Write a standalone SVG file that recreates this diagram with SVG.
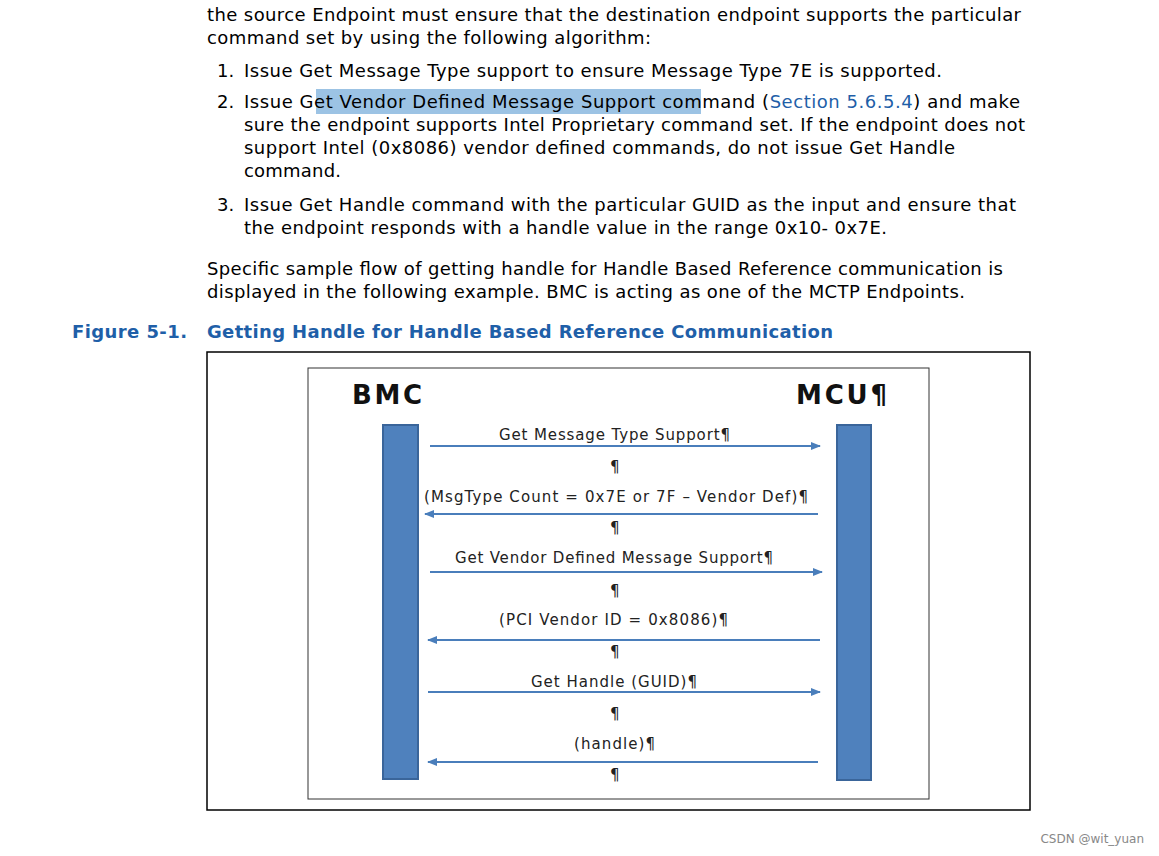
<svg xmlns="http://www.w3.org/2000/svg" width="1159" height="856" viewBox="0 0 1159 856">
<defs>
<marker id="ah" markerWidth="10" markerHeight="8" refX="9" refY="4" orient="auto" markerUnits="userSpaceOnUse"><path d="M0,0 L10,4 L0,8 z" fill="#4a7ebb"/></marker>
<style>
.b{font-family:"DejaVu Sans",Verdana,sans-serif;font-size:18px;fill:#000}
.d{font-family:"DejaVu Sans",Verdana,sans-serif;font-size:15px;fill:#222}
.h{font-family:"DejaVu Sans",Verdana,sans-serif;font-size:26px;font-weight:bold;fill:#111}
.lk{fill:#1f5fa8}
.bar{fill:#4f81bd;stroke:#3a659a;stroke-width:2}
.ar{stroke:#4a7ebb;stroke-width:2;fill:none;marker-end:url(#ah)}
</style>
</defs>
<rect width="1159" height="856" fill="#fff"/>
<rect x="316" y="89" width="385" height="25" fill="#9cc3e4"/>
<g id="text">
<text class="b" x="207" y="21" textLength="814">the source Endpoint must ensure that the destination endpoint supports the particular</text>
<text class="b" x="207" y="44" textLength="444">command set by using the following algorithm:</text>
<text class="b" x="217" y="77">1.</text>
<text class="b" x="244" y="77" textLength="698">Issue Get Message Type support to ensure Message Type 7E is supported.</text>
<text class="b" x="217" y="108">2.</text>
<text class="b" x="244" y="108" textLength="776">Issue Get Vendor Defined Message Support command (<tspan class="lk">Section 5.6.5.4</tspan>) and make</text>
<text class="b" x="244" y="131" textLength="781">sure the endpoint supports Intel Proprietary command set. If the endpoint does not</text>
<text class="b" x="244" y="154" textLength="711">support Intel (0x8086) vendor defined commands, do not issue Get Handle</text>
<text class="b" x="244" y="177" textLength="97">command.</text>
<text class="b" x="217" y="211">3.</text>
<text class="b" x="244" y="211" textLength="772">Issue Get Handle command with the particular GUID as the input and ensure that</text>
<text class="b" x="244" y="234" textLength="643">the endpoint responds with a handle value in the range 0x10- 0x7E.</text>
<text class="b" x="207" y="275" textLength="796">Specific sample flow of getting handle for Handle Based Reference communication is</text>
<text class="b" x="207" y="298" textLength="758">displayed in the following example. BMC is acting as one of the MCTP Endpoints.</text>
<text class="b lk" x="72" y="338" font-weight="bold" textLength="115">Figure 5-1.</text>
<text class="b lk" x="207" y="338" font-weight="bold" textLength="626">Getting Handle for Handle Based Reference Communication</text>
</g>
<rect x="207" y="352" width="823" height="458" fill="none" stroke="#000" stroke-width="1.5"/>
<rect x="308" y="368" width="621" height="431" fill="none" stroke="#333" stroke-width="1"/>
<g id="bmc"><text class="h" x="352" y="404" textLength="70">BMC</text><rect class="bar" x="383" y="425" width="35" height="354"/></g>
<g id="mcu"><text class="h" x="796" y="404" textLength="91">MCU¶</text><rect class="bar" x="837" y="425" width="34" height="355"/></g>
<g id="connectors">
<line class="ar" x1="430" y1="446" x2="820" y2="446"/>
<line class="ar" x1="818" y1="514" x2="425" y2="514"/>
<line class="ar" x1="430" y1="572" x2="822" y2="572"/>
<line class="ar" x1="820" y1="640" x2="428" y2="640"/>
<line class="ar" x1="428" y1="692" x2="820" y2="692"/>
<line class="ar" x1="818" y1="762" x2="428" y2="762"/>
</g>
<g id="labels">
<text class="d" x="499" y="440" textLength="231">Get Message Type Support¶</text>
<text class="d" x="610" y="472">¶</text>
<text class="d" x="424" y="502" textLength="384">(MsgType Count = 0x7E or 7F – Vendor Def)¶</text>
<text class="d" x="610" y="533">¶</text>
<text class="d" x="455" y="563" textLength="318">Get Vendor Defined Message Support¶</text>
<text class="d" x="610" y="596">¶</text>
<text class="d" x="499" y="625" textLength="229">(PCI Vendor ID = 0x8086)¶</text>
<text class="d" x="610" y="657">¶</text>
<text class="d" x="531" y="687" textLength="166">Get Handle (GUID)¶</text>
<text class="d" x="610" y="719">¶</text>
<text class="d" x="574" y="749" textLength="81">(handle)¶</text>
<text class="d" x="610" y="780">¶</text>
</g>
<text x="1144" y="843" font-family="DejaVu Sans,sans-serif" font-size="12" fill="#888" text-anchor="end">CSDN @wit_yuan</text>
</svg>
